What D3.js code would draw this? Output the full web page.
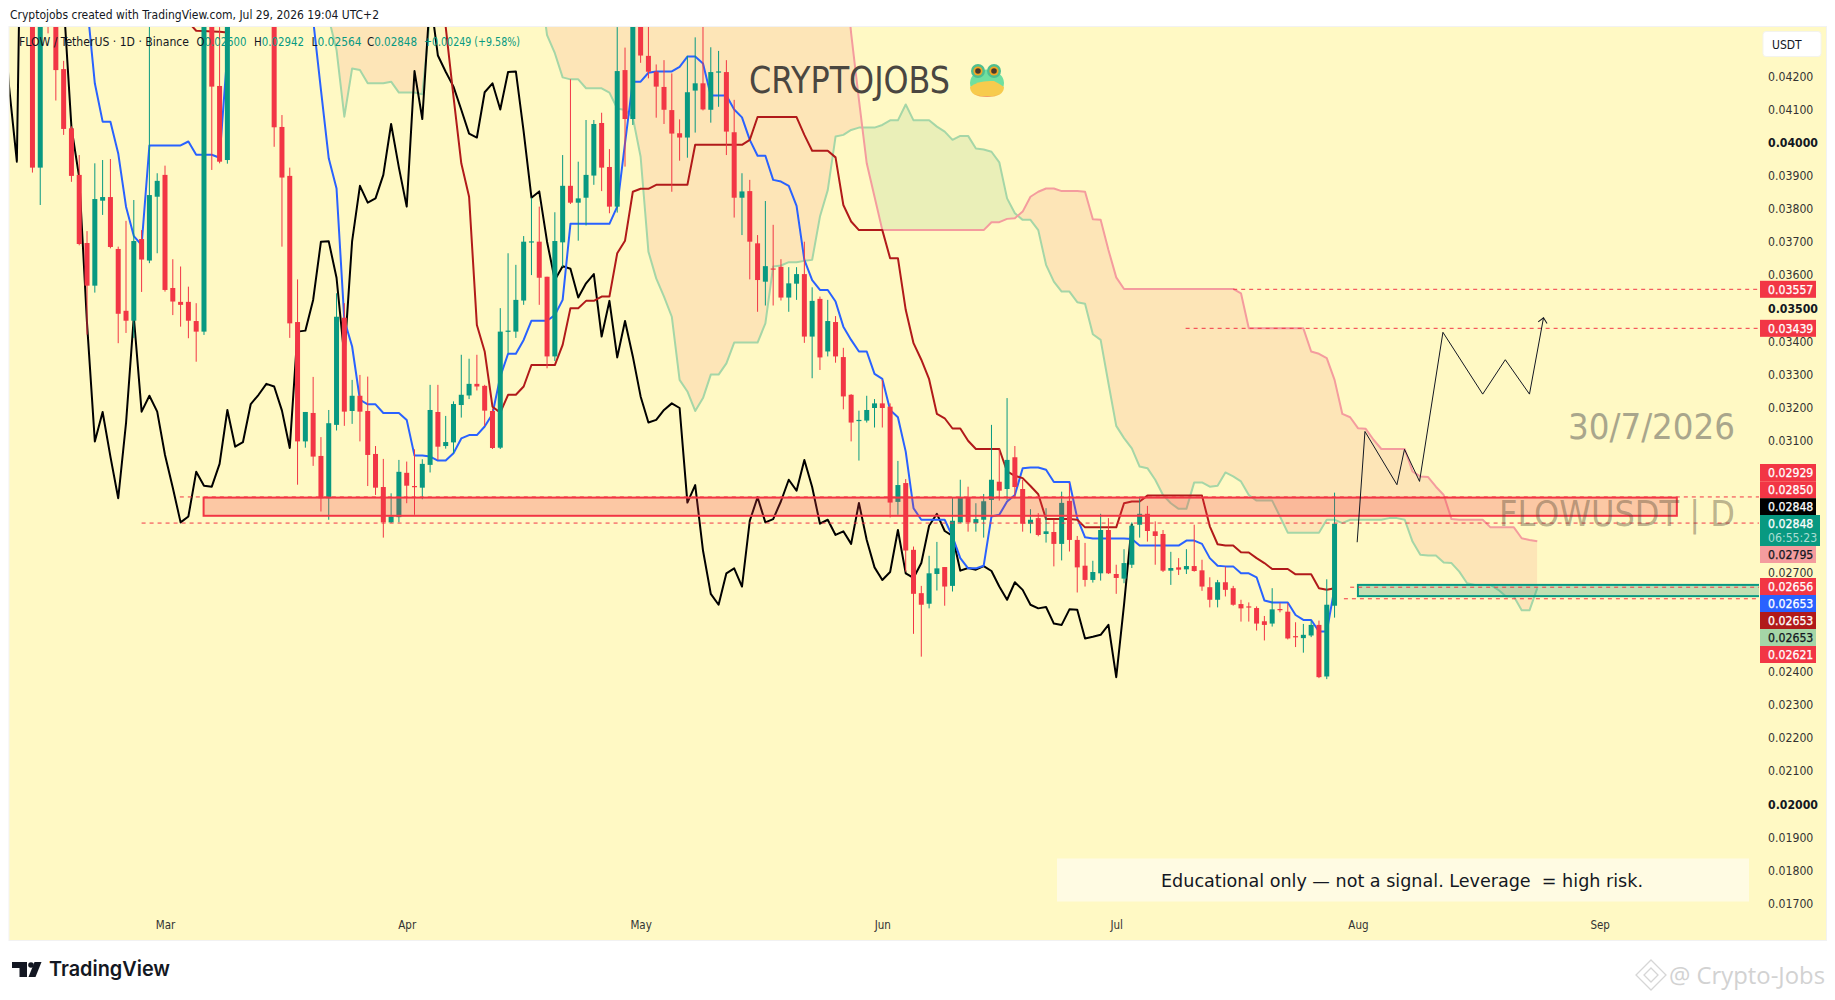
<!DOCTYPE html>
<html><head><meta charset="utf-8">
<script src="https://cdnjs.cloudflare.com/ajax/libs/d3/7.8.5/d3.min.js"></script>
<style>html,body{margin:0;padding:0;background:#fff}svg{display:block}text{font-family:"DejaVu Sans Condensed","DejaVu Sans",sans-serif}</style>
</head><body><svg id="c" width="1835" height="1000"></svg>
<script>
// All prices are in units of 0.00001 USDT. Day numbers count from 1 March (day 0).
const firstCandleDay=-17;
const opens=[4560,3925,4600,4600,4223,4044,3903,3697,3568,3825,
3836,3679,3492,3462,3709,3644,3837,3903,3561,3519,
3519,3461,3429,4600,4172,3948,5490,5300,5150,4950,
4700,4428,4048,3900,3458,3097,3183,3053,2925,3147,
3471,3189,3235,3189,3059,2959,2852,2868,3002,2962,
2957,3026,3186,3083,3094,3207,3236,3271,3265,3189,
3078,3429,3429,3523,3700,3701,3595,3354,3699,3870,
3819,3834,3901,4060,3927,3807,4220,4072,4444,4263,
4215,4169,4099,4029,4016,4158,4180,4100,4215,4214,
4032,3834,3854,3696,3580,3620,3625,3532,3574,3603,
3414,3528,3369,3458,3352,3238,3160,3160,3198,3212,
3202,2914,2971,2769,2638,2606,2696,2717,2660,2852,
2926,2850,2860,2920,2975,2953,3049,2953,2848,2865,
2817,2823,2787,2917,2799,2721,2678,2698,2829,2696,
2682,2724,2845,2878,2825,2817,2706,2716,2710,2720,
2707,2656,2618,2671,2653,2605,2598,2593,2553,2546,
2590,2582,2508,2502,2510,2542,2386,2600];
const highs=[4600,4560,4650,4650,4248,4050,3963,3733,3938,3948,
3951,3686,3764,3827,3736,4520,3908,3931,3648,3626,
3565,3515,4600,4650,4350,5560,5560,5400,5200,5000,
4750,4480,4084,3925,3587,3186,3292,3110,3192,3545,
3515,3283,3298,3293,3083,3044,2940,3041,3036,3073,
3043,3268,3268,3174,3218,3359,3347,3359,3268,3197,
3500,3666,3631,3718,3834,3807,3595,3790,3963,4192,
3943,4069,4069,4091,3981,4350,4288,4500,4500,4400,
4237,4250,4210,4071,4263,4319,4400,4289,4278,4250,
4130,3908,3888,3721,3824,3752,3648,3624,3624,3701,
3563,3535,3525,3476,3380,3240,3190,3235,3225,3283,
3212,3038,2983,2779,2660,2751,2793,2717,2928,2981,
2960,2910,2938,3147,3073,3228,3083,2981,2892,2880,
2895,2860,2945,2971,2811,2790,2736,2878,2865,2724,
2771,2852,2930,2902,2855,2829,2763,2744,2771,2845,
2739,2686,2678,2718,2660,2618,2610,2598,2569,2653,
2608,2608,2550,2545,2555,2555,2680,2942];
const lows=[3910,3812,4331,4128,4024,3882,3690,3420,3547,3782,
3681,3394,3425,3410,3549,3636,3666,3550,3479,3444,
3409,3338,3419,3918,3938,3937,5200,5000,4800,4600,
4400,3988,3686,3410,2966,3078,3023,2885,2860,3130,
3144,3150,3097,2962,2935,2806,2850,2852,2910,2875,
2922,3003,3041,3075,3061,3169,3225,3251,3144,3074,
3074,3364,3410,3510,3600,3510,3318,3340,3625,3815,
3704,3750,3873,3854,3787,3789,3928,4054,4242,4195,
4076,4057,3852,3946,3955,4031,4098,4061,4109,3963,
3774,3721,3587,3489,3508,3508,3523,3489,3525,3395,
3288,3313,3354,3335,3194,3097,3039,3154,3139,3139,
2867,2875,2703,2515,2446,2592,2646,2600,2643,2850,
2824,2824,2806,2875,2918,2920,2925,2824,2819,2810,
2791,2719,2737,2764,2640,2658,2670,2676,2696,2636,
2668,2714,2806,2794,2724,2702,2663,2693,2696,2703,
2645,2595,2595,2628,2600,2552,2552,2525,2495,2537,
2580,2498,2475,2458,2505,2381,2378,2564];
const closes=[3925,4500,4500,4220,4042,3900,3694,3568,3830,3836,
3685,3483,3462,3703,3647,3842,3885,3555,3520,3510,
3462,3429,4500,4170,3943,5490,5300,5150,4950,4700,
4428,4047,3895,3454,3097,3186,3051,2925,3152,3474,
3187,3235,3187,3056,2957,2852,2870,3005,2963,2960,
3029,3192,3081,3095,3210,3238,3271,3263,3190,3077,
3429,3432,3525,3701,3702,3592,3354,3703,3870,3819,
3832,3903,4057,3925,3807,4217,4072,4444,4264,4215,
4170,4100,4028,4016,4153,4180,4101,4214,4216,4034,
3834,3853,3701,3585,3627,3619,3532,3575,3603,3414,
3522,3351,3461,3354,3233,3154,3162,3192,3212,3198,
2912,2965,2767,2636,2603,2698,2713,2658,2857,2928,
2852,2862,2916,2981,2948,3041,2959,2848,2860,2814,
2825,2787,2911,2799,2716,2678,2702,2829,2698,2684,
2729,2842,2878,2826,2811,2706,2714,2709,2720,2705,
2658,2618,2671,2648,2603,2592,2596,2546,2542,2589,
2588,2501,2506,2512,2542,2384,2603,2848];

const firstTenkanDay=-10;
const tenkan=[4420,4180,4064,4064,3968,3807,3718,3691,3992,3992,
3992,3992,3992,4004,3964,3964,3964,3955,4272,4650,
4700,4700,4700,4700,4700,4700,4700,4700,4600,4372,
4160,3953,3862,3464,3384,3223,3209,3209,3183,3183,
3183,3162,3054,3054,3051,3039,3039,3061,3106,3116,
3116,3142,3180,3293,3362,3362,3404,3462,3462,3462,
3479,3525,3755,3755,3755,3755,3755,3755,3807,3999,
4185,4185,4212,4216,4216,4216,4230,4261,4261,4240,
4143,4143,4143,4101,4077,4009,3961,3961,3888,3883,
3870,3809,3646,3585,3555,3555,3520,3444,3404,3369,
3369,3301,3286,3192,3170,3066,2895,2860,2860,2860,
2860,2809,2744,2713,2713,2721,2870,2875,2915,2935,
3016,3018,3018,3011,2974,2974,2974,2865,2807,2803,
2803,2803,2803,2803,2802,2782,2782,2782,2782,2782,
2782,2797,2797,2787,2744,2721,2719,2719,2698,2698,
2686,2616,2610,2610,2610,2572,2557,2557,2522,2522,2653];

const firstKijunDay=3;
const kijun=[4365,4339,4338,4337,4336,4334,4500,4700,4700,4700,
4700,4700,4700,4700,4700,4700,4700,4700,4700,4700,
4700,4700,4700,4700,4700,4700,4700,4700,4700,4700,
4700,4700,4700,4351,4140,3938,3837,3449,3369,3202,
3184,3238,3238,3263,3328,3328,3328,3328,3389,3500,
3500,3522,3522,3535,3535,3666,3704,3852,3861,3861,
3873,3873,3873,3873,3873,3994,3994,3994,3994,3994,
3994,3994,4009,4078,4078,4078,4078,4078,4078,4024,
3976,3976,3976,3956,3812,3762,3736,3736,3736,3736,
3651,3651,3495,3394,3344,3285,3180,3167,3136,3136,
3099,3074,3074,3074,3074,3006,2993,2986,2962,2937,
2862,2862,2862,2862,2860,2837,2837,2837,2837,2837,
2910,2915,2915,2933,2933,2933,2933,2933,2933,2933,
2933,2840,2786,2782,2782,2762,2761,2744,2729,2711,
2711,2711,2695,2695,2695,2653,2648,2653];

const firstSpanDay=20;
const spanA=[4600,4377,4281,4079,4225,4220,4180,4180,4180,4185,
4152,4152,4152,4147,4382,4600,4600,4600,4600,4600,
4600,4600,4600,4600,4600,4600,4600,4600,4500,4326,
4271,4198,4192,4192,4165,4165,4165,4152,4104,4099,
4077,3958,3671,3590,3535,3474,3283,3248,3189,3228,
3299,3299,3333,3396,3396,3396,3396,3454,3626,3629,
3639,3639,3643,3646,3777,3857,4019,4024,4039,4046,
4046,4046,4054,4068,4068,4116,4068,4068,4068,4049,
4034,4009,4021,4021,3983,3980,3973,3941,3832,3787,
3767,3767,3736,3631,3580,3550,3550,3518,3513,3421,
3404,3273,3144,3107,3076,3021,3016,2981,2935,2910,
2893,2893,2973,2973,2960,2963,3003,2991,2976,2935,
2918,2918,2918,2870,2821,2821,2821,2821,2821,2860,
2860,2850,2860,2860,2860,2860,2860,2865,2865,2860,
2794,2754,2752,2752,2731,2729,2703,2668,2663,2663,
2663,2648,2628,2628,2586,2586,2653];
const spanB=[4800,4800,4800,4800,4800,4800,4800,4800,4800,4800,
4800,4800,4800,4800,4800,4800,4800,4800,4800,4800,
4800,4800,4800,4800,4800,4800,4800,4800,4800,4800,
4800,4800,4800,4800,4800,4800,4800,4800,4800,4800,
4800,4800,4800,4800,4800,4800,4800,4800,4800,4800,
4800,4800,4800,4800,4800,4800,4800,4800,4800,4800,
4800,4800,4800,4800,4800,4800,4800,4580,4331,4130,
3938,3837,3736,3736,3736,3736,3736,3736,3736,3736,
3736,3736,3736,3736,3736,3736,3760,3760,3770,3772,
3792,3837,3852,3862,3862,3854,3854,3854,3852,3769,
3767,3676,3593,3558,3558,3558,3558,3558,3558,3558,
3558,3558,3558,3558,3558,3558,3558,3558,3545,3439,
3439,3439,3439,3439,3439,3439,3439,3369,3362,3349,
3283,3180,3170,3137,3135,3102,3074,3074,3074,3074,
3006,2991,2989,2960,2935,2862,2860,2860,2860,2860,
2837,2837,2837,2837,2804,2799,2795];

const laggingShift=26;
const projectionDays=[152.9,153.9,158,158.97,160.9,163.9,169,171.9,175,176.8];
const projectionPrices=[2792,3127,2966,3073,2976,3427,3240,3344,3240,3471];

const dashedLevels=[3557,3439,2929,2850,2656,2621];
const dashedStarts=[137,130.9,1.9,-3,152,151.2];
const redZone=[2872,2927], redZoneDays=[4.95,193.9];
const greenZone=[2629,2663], greenZoneDays=[153,204.6];

const priceTicks=[4200,4100,4000,3900,3800,3700,3600,3500,3400,3300,3200,3100,2700,2400,2300,2200,2100,2000,1900,1800,1700];
const boldTicks=[4000,3500,2000];
const monthNames=["Mar","Apr","May","Jun","Jul","Aug","Sep"];
const monthDays=[0,31,61,92,122,153,184];

const levelTags=[3557,3439];
const tagTexts=["0.02929","0.02850","0.02848","0.02848","0.02795"];
const tagTexts2=["0.02656","0.02653","0.02653","0.02653","0.02621"];
const legendVals=["0.02600","0.02942","0.02564","0.02848"];
const legendKeys=["O","H","L","C"];

const UP="#089981",DOWN="#F23645";
const P={l:9.5,t:27,r:1826,b:940,axis:1759};
const svg=d3.select("#c");
const x=d3.scaleLinear().domain([0,184]).range([165,165+7.797*184]);
const y=d3.scaleLinear().domain([1700,4200]).range([903.3,76.7]);

svg.append("rect").attr("x",P.l-1).attr("y",P.t-1).attr("width",P.r-P.l+2).attr("height",P.b-P.t+2).attr("fill","#f2f2f2");
svg.append("rect").attr("x",P.l).attr("y",P.t).attr("width",P.r-P.l).attr("height",P.b-P.t).attr("fill","#FFF9C4");
const defs=svg.append("defs");
defs.append("clipPath").attr("id","pane").append("rect").attr("x",P.l).attr("y",P.t).attr("width",P.axis-P.l).attr("height",P.b-P.t);

const xs=(start,i)=>x(start+i);
const spanData=spanA.map((a,i)=>({d:firstSpanDay+i,a,b:spanB[i]}));
const aboveB=d3.area().x(d=>x(d.d)).y0(P.t-200).y1(d=>y(d.b));
const belowB=d3.area().x(d=>x(d.d)).y0(P.b+200).y1(d=>y(d.b));
defs.append("clipPath").attr("id","aboveB").append("path").attr("d",aboveB(spanData));
defs.append("clipPath").attr("id","belowB").append("path").attr("d",belowB(spanData));
const main=svg.append("g").attr("clip-path","url(#pane)");
main.append("g").attr("clip-path","url(#aboveB)").append("path")
 .attr("d",d3.area().x(d=>x(d.d)).y0(P.b+200).y1(d=>y(d.a))(spanData)).attr("fill","#EAEFB8");
main.append("g").attr("clip-path","url(#belowB)").append("path")
 .attr("d",d3.area().x(d=>x(d.d)).y0(P.t-200).y1(d=>y(d.a))(spanData)).attr("fill","#FDE5B7");

const line=(start,arr,color,w)=>main.append("path")
 .attr("d",d3.line().x((v,i)=>xs(start,i)).y(v=>y(v))(arr))
 .attr("fill","none").attr("stroke",color).attr("stroke-width",w).attr("stroke-linejoin","round");
line(firstSpanDay,spanA,"#A5D6A7",2);
line(firstSpanDay,spanB,"#F49C9E",2);
line(firstCandleDay-laggingShift,closes,"#000",2);
line(firstTenkanDay,tenkan,"#2962FF",2);
line(firstKijunDay,kijun,"#B11A1A",2);

const candles=opens.map((o,i)=>({d:firstCandleDay+i,o,h:highs[i],l:lows[i],c:closes[i]}));
const cg=main.append("g").selectAll("g").data(candles).join("g");
cg.append("line").attr("x1",d=>x(d.d)).attr("x2",d=>x(d.d)).attr("y1",d=>y(d.h)).attr("y2",d=>y(d.l))
 .attr("stroke",d=>d.c>=d.o?UP:DOWN).attr("stroke-width",1);
cg.append("rect").attr("x",d=>x(d.d)-2.5).attr("width",5)
 .attr("y",d=>y(Math.max(d.o,d.c))).attr("height",d=>Math.max(1.2,Math.abs(y(d.o)-y(d.c))))
 .attr("fill",d=>d.c>=d.o?UP:DOWN);

// zones
main.append("rect").attr("x",x(redZoneDays[0])).attr("width",x(redZoneDays[1])-x(redZoneDays[0]))
 .attr("y",y(redZone[1])).attr("height",y(redZone[0])-y(redZone[1]))
 .attr("fill","rgba(242,54,69,.25)").attr("stroke",DOWN).attr("stroke-width",2);
main.append("rect").attr("x",x(greenZoneDays[0])).attr("width",x(greenZoneDays[1])-x(greenZoneDays[0]))
 .attr("y",y(greenZone[1])).attr("height",y(greenZone[0])-y(greenZone[1]))
 .attr("fill","rgba(8,153,129,.25)").attr("stroke",UP).attr("stroke-width",2);
main.append("g").selectAll("line").data(dashedLevels).join("line")
 .attr("x1",(v,i)=>x(dashedStarts[i])).attr("x2",P.axis).attr("y1",v=>y(v)).attr("y2",v=>y(v))
 .attr("stroke",DOWN).attr("stroke-width",1).attr("stroke-dasharray","4 4");

// projection
defs.append("marker").attr("id","arr").attr("viewBox","-6 -6 12 12").attr("refX",0).attr("refY",0)
 .attr("markerWidth",12).attr("markerHeight",12).attr("markerUnits","userSpaceOnUse").attr("orient","auto")
 .append("path").attr("d","M-5,-4.5L0,0L-5,4.5").attr("fill","none").attr("stroke","#131722").attr("stroke-width",1);
main.append("path").attr("d",d3.line().x(d=>x(d[0])).y(d=>y(d[1]))(projectionDays.map((d,i)=>[d,projectionPrices[i]])))
 .attr("fill","none").attr("stroke","#131722").attr("stroke-width",1).attr("marker-end","url(#arr)");

// axes
const yAxis=d3.axisRight(y).tickValues(priceTicks).tickSize(0).tickPadding(0).tickFormat(v=>(v/1e5).toFixed(5));
const ya=svg.append("g").attr("transform","translate(1768,0)").call(yAxis);
ya.select(".domain").remove();
ya.selectAll("text").attr("font-size",12.2)
 .attr("font-weight",v=>boldTicks.includes(v)?700:400)
 .attr("fill",v=>boldTicks.includes(v)?"#131722":"#333");
ya.selectAll("text").style("font-family",'"DejaVu Sans Condensed","DejaVu Sans",sans-serif');
const xAxis=d3.axisBottom(x).tickValues(monthDays).tickSize(0).tickPadding(0).tickFormat((v,i)=>monthNames[i]);
const xa=svg.append("g").attr("transform","translate(0,921)").call(xAxis);
xa.select(".domain").remove();
xa.selectAll("text").attr("font-size",11.5).attr("fill","#333").style("font-family",'"DejaVu Sans Condensed","DejaVu Sans",sans-serif');

// price tags
function tag(tp,h,w,fill,txt,col){
 svg.append("rect").attr("x",1760).attr("y",tp).attr("width",w).attr("height",h).attr("fill",fill);
 svg.append("text").attr("x",1768).attr("y",tp+h/2).attr("dy",".36em").attr("font-size",12.2).attr("stroke",col).attr("stroke-width",.25).attr("fill",col).text(txt);
}
levelTags.forEach(v=>tag(y(v)-8.5,17,56,DOWN,(v/1e5).toFixed(5),"#fff"));
let tagTop=464;
tag(tagTop,17.3,56,DOWN,tagTexts[0],"#fff");tagTop+=17.3;
tag(tagTop,16.9,56,DOWN,tagTexts[1],"#fff");tagTop+=16.9;
tag(tagTop,16.8,56,"#000",tagTexts[2],"#fff");tagTop+=16.8;
svg.append("rect").attr("x",1760).attr("y",tagTop).attr("width",60).attr("height",31).attr("fill",UP);
svg.append("text").attr("x",1768).attr("y",tagTop+8.7).attr("dy",".36em").attr("font-size",12.2).attr("stroke","#fff").attr("stroke-width",.25).attr("fill","#fff").text(tagTexts[3]);
svg.append("text").attr("x",1768).attr("y",tagTop+22.5).attr("dy",".36em").attr("font-size",12.2).attr("fill","#A9DDD2").text("06:55:23");
tagTop+=31;
tag(tagTop,17,56,"#F49C9E",tagTexts[4],"#131722");
let t2=578;
const cols2=[DOWN,"#2962FF","#B11A1A","#A5D6A7",DOWN],tc2=["#fff","#fff","#fff","#131722","#fff"];
tagTexts2.forEach((s,i)=>{tag(t2,17,56,cols2[i],s,tc2[i]);t2+=17;});

// USDT button
svg.append("rect").attr("x",1763).attr("y",31.5).attr("width",58).attr("height",25).attr("rx",3).attr("fill","#fff").attr("stroke","#f3f3ee");
svg.append("text").attr("x",1772).attr("y",44.5).attr("dy",".36em").attr("font-size",12).attr("fill","#131722").text("USDT");

// header & legend
svg.append("text").attr("x",10).attr("y",15).attr("dy",".36em").attr("font-size",12).attr("fill","#131722").attr("textLength",369).attr("lengthAdjust","spacingAndGlyphs").text("Cryptojobs created with TradingView.com, Jul 29, 2026 19:04 UTC+2");
svg.append("text").attr("x",19).attr("y",42).attr("dy",".36em").attr("font-size",12).attr("fill","#131722").attr("textLength",170).attr("lengthAdjust","spacingAndGlyphs").text("FLOW / TetherUS · 1D · Binance");
const legendX=[196.5,254,311.5,367];
legendKeys.forEach((k,i)=>{
 const t=svg.append("text").attr("x",legendX[i]).attr("y",42).attr("dy",".36em").attr("font-size",12).attr("textLength",50).attr("lengthAdjust","spacingAndGlyphs");
 t.append("tspan").attr("fill","#131722").text(k);
 t.append("tspan").attr("fill",UP).text(legendVals[i]);
});
svg.append("text").attr("x",424).attr("y",42).attr("dy",".36em").attr("font-size",12).attr("fill",UP).attr("textLength",96).attr("lengthAdjust","spacingAndGlyphs").text("+0.00249 (+9.58%)");

// overlay texts
svg.append("text").attr("x",749).attr("y",80).attr("dy",".36em").attr("font-size",37).attr("fill","#4a4640").attr("textLength",201).attr("lengthAdjust","spacingAndGlyphs").text("CRYPTOJOBS");
svg.append("text").attr("x",1568).attr("y",426).attr("dy",".36em").attr("font-size",36).attr("fill","#A9A68C").attr("textLength",167).attr("lengthAdjust","spacingAndGlyphs").text("30/7/2026");
svg.append("text").attr("x",1499).attr("y",513).attr("dy",".36em").attr("font-size",35).attr("fill","rgba(80,70,50,.4)").attr("textLength",236).attr("lengthAdjust","spacingAndGlyphs").text("FLOWUSDT | D");
svg.append("rect").attr("x",1057).attr("y",858.5).attr("width",692).attr("height",43).attr("fill","#FFFBE3");
svg.append("text").attr("x",1161).attr("y",880.5).attr("dy",".36em").attr("font-size",18.5).attr("fill","#131722").style("white-space","pre").attr("textLength",482).attr("lengthAdjust","spacingAndGlyphs").text("Educational only — not a signal. Leverage  = high risk.");

// frog
const f=svg.append("g");
f.append("ellipse").attr("cx",987).attr("cy",83).attr("rx",17).attr("ry",13.5).attr("fill","#6FE0A0");
f.append("circle").attr("cx",978).attr("cy",71).attr("r",7).attr("fill","#4FBF90");
f.append("circle").attr("cx",994).attr("cy",71).attr("r",7).attr("fill","#4FBF90");
f.append("circle").attr("cx",978).attr("cy",71).attr("r",4.6).attr("fill","#F4A623");
f.append("circle").attr("cx",994).attr("cy",71).attr("r",4.6).attr("fill","#F4A623");
f.append("circle").attr("cx",978).attr("cy",71).attr("r",2.8).attr("fill","#4a3b2a");
f.append("circle").attr("cx",994).attr("cy",71).attr("r",2.8).attr("fill","#4a3b2a");
f.append("path").attr("d","M970,87 Q978,80 994,81 Q1000,84 1004,87 Q1004,97 987,97 Q970,97 970,87Z").attr("fill","#F7CB4D");
f.append("path").attr("d","M974,94 Q987,99 1000,94 Q993,97 987,97 Q980,97 974,94Z").attr("fill","#EE6E8E");

// TradingView logo
const lg=svg.append("g");
lg.append("path").attr("d","M12,962H27V977H19.5V968H12Z").attr("fill","#131722");
lg.append("circle").attr("cx",31).attr("cy",965).attr("r",2.8).attr("fill","#131722");
lg.append("path").attr("d","M34.5,962H41.5L35.5,977H28.5Z").attr("fill","#131722");
svg.append("text").attr("x",49).attr("y",969).attr("dy",".36em").attr("font-size",20.5).attr("font-weight",600).attr("fill","#131722").style("font-family","Inter,Roboto,sans-serif").attr("textLength",121).attr("lengthAdjust","spacingAndGlyphs").text("TradingView");

// watermark
const w=svg.append("g").attr("fill","none").attr("stroke","#d6d6d6").attr("stroke-width",1.3);
w.append("path").attr("d","M1651,960L1666,975L1651,990L1636,975Z");
w.append("path").attr("d","M1651,968L1658,975L1651,982L1644,975Z");
svg.append("text").attr("x",1669).attr("y",975).attr("dy",".36em").attr("font-size",24).attr("fill","#d2d2d2").style("font-family",'"Open Sans",sans-serif').attr("textLength",156).attr("lengthAdjust","spacingAndGlyphs").text("@ Crypto-Jobs");
</script></body></html>
